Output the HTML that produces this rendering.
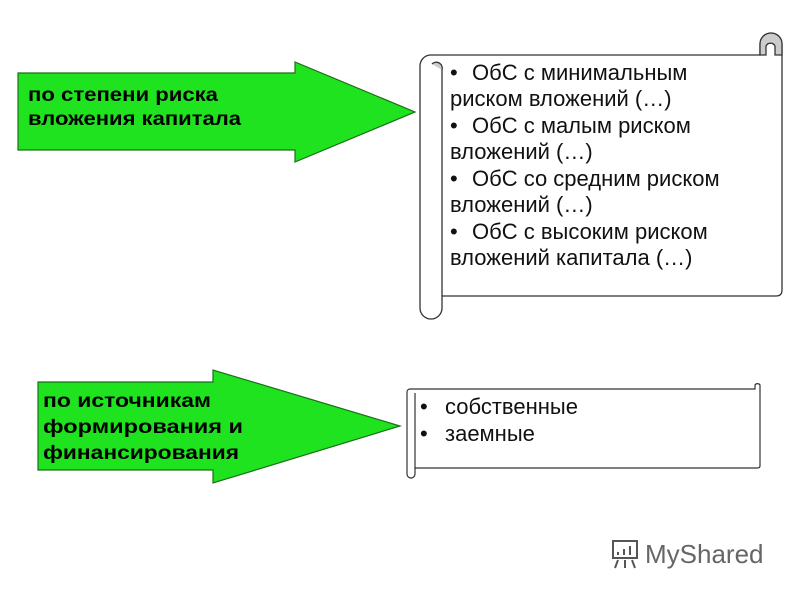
<!DOCTYPE html>
<html><head><meta charset="utf-8"><style>
body{margin:0;background:#fff;width:800px;height:600px;overflow:hidden}
svg{display:block}
text{font-family:"Liberation Sans",sans-serif}
</style></head><body>
<svg width="800" height="600" viewBox="0 0 800 600">
<polygon points="18,73 295,73 295,62 415,112 295,162 295,150 18,150" fill="#1ee31e" stroke="#1a6f1a" stroke-width="1.2"/>
<g font-size="19" font-weight="bold">
<text x="28" y="101" textLength="190" lengthAdjust="spacingAndGlyphs">по степени риска</text>
<text x="28" y="125" textLength="213" lengthAdjust="spacingAndGlyphs">вложения капитала</text>
</g>
<polygon points="38,382 213,382 213,370 400,426 213,483 213,470 38,470" fill="#1ee31e" stroke="#1a6f1a" stroke-width="1.2"/>
<g font-size="19" font-weight="bold">
<text x="43" y="407" textLength="168" lengthAdjust="spacingAndGlyphs">по источникам</text>
<text x="43" y="433" textLength="200" lengthAdjust="spacingAndGlyphs">формирования и</text>
<text x="43" y="459" textLength="196" lengthAdjust="spacingAndGlyphs">финансирования</text>
</g>

<g fill="#fff" stroke="#333" stroke-width="1.3">
<path d="M430,55 L760,55 L760,44 A11,11 0 0 1 782,44 L782,290 Q782,296 776,296 L442,296 L442,308 A11,11 0 0 1 420,308 L420,66 A11,11 0 0 1 430,55 Z"/>
<path d="M442,296 L442,70"/>
<path d="M432,64 A6,6 0 0 1 442,70" fill="#ccc"/>
<path d="M760,44 A11,11 0 0 1 782,44 L782,55 L775,55 L775,46 A5,5 0 0 0 766,46 L766,55 L760,55 Z" fill="#ccc"/>
</g>
<g font-size="22" fill="#111">
<text x="450" y="80">•</text><text x="472" y="80">ОбС с минимальным</text>
<text x="450" y="106">риском вложений (…)</text>
<text x="450" y="133">•</text><text x="472" y="133">ОбС с малым риском</text>
<text x="450" y="159">вложений (…)</text>
<text x="450" y="186">•</text><text x="472" y="186">ОбС со средним риском</text>
<text x="450" y="212">вложений (…)</text>
<text x="450" y="239">•</text><text x="472" y="239">ОбС с высоким риском</text>
<text x="450" y="265">вложений капитала (…)</text>
</g>

<g fill="#fff" stroke="#333" stroke-width="1.2">
<path d="M410,389 L755,389 L755,385 A3,3 0 0 1 760,385 L760,466 Q760,468 757,468 L415,468 L415,474 A4,4 0 0 1 407,474 L407,392 A3,3 0 0 1 410,389 Z"/>
<path d="M415,468 L415,393"/>
</g>
<g font-size="22" fill="#111">
<text x="420" y="414">•</text><text x="445" y="414">собственные</text>
<text x="420" y="441">•</text><text x="445" y="441">заемные</text>
</g>

<g stroke="#555" stroke-width="2" fill="none">
<rect x="613" y="541" width="24" height="17"/>
<path d="M618,552 v3 M624,549 v6 M630,546 v9 M618,560 l-3,8 M625,560 v8 M632,560 l3,8"/>
</g>
<text x="645" y="563" font-size="26" fill="#666">MyShared</text>
</svg>
</body></html>
